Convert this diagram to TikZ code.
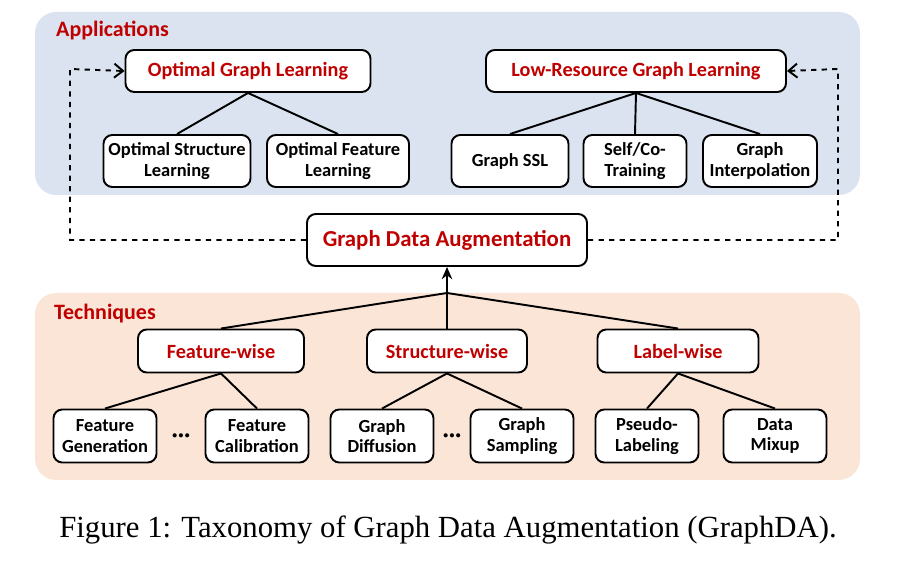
\documentclass[tikz,border=0pt]{standalone}
\usepackage{fontspec}
\setmainfont{Liberation Serif}
\newfontfamily\carl{Carlito}
\usetikzlibrary{arrows.meta}
\definecolor{appbg}{HTML}{DAE3EF}
\definecolor{tecbg}{HTML}{FBE5D6}
\definecolor{darkred}{HTML}{C00000}
\begin{document}
\begin{tikzpicture}[x=0.02cm,y=-0.02cm,
  box/.style={draw,line width=1.1pt,rounded corners=5pt,fill=white,align=center,inner sep=0pt,font=\carl\bfseries\fontsize{10.5}{11.5}\selectfont},
  hd/.style={box,text=darkred,font=\carl\bfseries\fontsize{11.5}{12}\selectfont},
  ln/.style={line width=1.1pt},
  ttl/.style={text=darkred,font=\carl\bfseries\fontsize{12.5}{13}\selectfont,anchor=west}]
\useasboundingbox (0,0) rectangle (903,563);
\fill[appbg,rounded corners=12pt] (35,12) rectangle (860,195);
\fill[tecbg,rounded corners=12pt] (35,293) rectangle (860,480);
\node[ttl] (tapp) at (50,31) {Applications};
\node[ttl] (ttec) at (48,314) {Techniques};
\node[hd,minimum width=245*0.02cm,minimum height=42*0.02cm] (ogl) at (248,71) {Optimal Graph Learning};
\node[hd,minimum width=300*0.02cm,minimum height=42*0.02cm] (lrgl) at (636,71) {Low-Resource Graph Learning};
\node[box,minimum width=147*0.02cm,minimum height=52*0.02cm] (osl) at (177,161) {Optimal Structure\\Learning};
\node[box,minimum width=142*0.02cm,minimum height=52*0.02cm] (ofl) at (338,161) {Optimal Feature\\Learning};
\node[box,minimum width=117*0.02cm,minimum height=52*0.02cm] (ssl) at (510,161) {Graph SSL};
\node[box,minimum width=103*0.02cm,minimum height=52*0.02cm] (sct) at (635,161) {Self/Co-\\Training};
\node[box,minimum width=114*0.02cm,minimum height=52*0.02cm] (gi) at (760,161) {Graph\\Interpolation};
\node[hd,font=\carl\bfseries\fontsize{13}{14}\selectfont,minimum width=280*0.02cm,minimum height=52*0.02cm] (gda) at (447,240) {Graph Data Augmentation};
\node[hd,minimum width=166*0.02cm,minimum height=43*0.02cm] (fw) at (221,351) {Feature-wise};
\node[hd,minimum width=160*0.02cm,minimum height=43*0.02cm] (sw) at (447,351) {Structure-wise};
\node[hd,minimum width=161*0.02cm,minimum height=43*0.02cm] (lw) at (678,351) {Label-wise};
\foreach \n/\x/\t in {fg/105/Feature\\Generation, fc/257/Feature\\Calibration, gdf/382/Graph\\Diffusion, gs/522/Graph\\Sampling, pl/647/Pseudo-\\Labeling, dm/775/Data\\Mixup}
  \node[box,minimum width=103*0.02cm,minimum height=53*0.02cm] (\n) at (\x,436) {\t};
\node[font=\bfseries\Large] (d1) at (181,436) {...};
\node[font=\bfseries\Large] (d2) at (452,436) {...};
\coordinate (apex) at (447,293);
\draw[ln] (ogl.south) -- (osl.north);
\draw[ln] (ogl.south) -- (ofl.north);
\draw[ln] (lrgl.south) -- (ssl.north);
\draw[ln] (lrgl.south) -- (sct.north);
\draw[ln] (lrgl.south) -- (gi.north);
\draw[ln] (fw.south) -- (fg.north);
\draw[ln] (fw.south) -- (fc.north);
\draw[ln] (sw.south) -- (gdf.north);
\draw[ln] (sw.south) -- (gs.north);
\draw[ln] (lw.south) -- (pl.north);
\draw[ln] (lw.south) -- (dm.north);
\draw[ln] (fw.north) -- (apex);
\draw[ln] (lw.north) -- (apex);
\draw[ln,-{Stealth[length=7pt,width=6pt]}] (sw.north) -- (gda.south);
\draw[ln,dashed,-{Straight Barb[length=5pt,width=8pt]}] (gda.west) -| (70,69) -- (ogl.west);
\draw[ln,dashed,-{Straight Barb[length=5pt,width=8pt]}] (gda.east) -| (838,69) -- (lrgl.east);
\node[font=\fontsize{17.5}{19}\selectfont] (cap) at (448,530) {Figure 1: Taxonomy of Graph Data Augmentation (GraphDA).};
\end{tikzpicture}
\end{document}
